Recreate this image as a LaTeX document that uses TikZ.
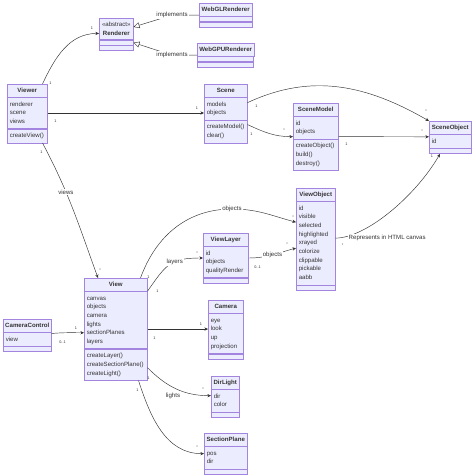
\documentclass[tikz,border=0pt]{standalone}
\usepackage{fontspec}
\setmainfont{Liberation Sans}
\usetikzlibrary{arrows.meta,calc}
\definecolor{clsfill}{HTML}{ECECFF}
\definecolor{clsline}{HTML}{9370DB}
\definecolor{edgec}{HTML}{333333}
\tikzset{clshead/.style={draw=clsline!85,fill=clsfill,line width=0.5pt,anchor=north west,align=center,inner xsep=2pt,inner ysep=2pt,font=\fontsize{6.1}{8.7}\selectfont\bfseries,text=edgec},clspart/.style={draw=clsline!85,fill=clsfill,line width=0.5pt,anchor=north west,align=left,inner xsep=2.5pt,font=\fontsize{6.1}{8.7}\selectfont,text=edgec},assoc/.style={-{Stealth[length=3.6pt,width=3.2pt]},draw=edgec,line width=0.45pt},inh/.style={-{Triangle[open,length=6pt,width=6pt,fill=white]},draw=edgec,line width=0.45pt},elabel/.style={fill=white,inner sep=1pt,font=\fontsize{6.1}{8.7}\selectfont,text=edgec},card/.style={inner sep=0pt,font=\fontsize{3.8}{4}\selectfont,text=edgec}}
% one compartment of a class box
\newcommand{\umlpart}[4]{%
  \def\umlbody{#4}%
  \ifx\umlbody\empty
    \node[clspart,minimum width=#3pt,minimum height=5pt,inner ysep=0pt] (#1) at (#2.south west) {};
  \else
    \pgfmathsetmacro\umlw{#3-5}%
    \node[clspart,text width=\umlw pt,inner ysep=2.5pt] (#1) at (#2.south west) {\strut#4\strut};
  \fi}
% name, left, top, width, title, attributes, methods
\newcommand{\umlclass}[7]{%
  \node[clshead,minimum width=#4pt] (#1) at (#2,-#3) {\strut#5\strut};
  \umlpart{#1-a}{#1}{#4}{#6}
  \umlpart{#1-m}{#1-a}{#4}{#7}}

\begin{document}
\begin{tikzpicture}[x=1pt,y=1pt]
\fill[white] (0,0) rectangle (474,-476);
\umlclass{renderer}{99}{18}{34}{{\mdseries «abstract»}\\Renderer}{}{}
\umlclass{webgl}{199}{3}{53}{WebGLRenderer}{}{}
\umlclass{webgpu}{197}{43}{56}{WebGPURenderer}{}{}
\umlclass{viewer}{7}{84}{40}{Viewer}{renderer\\scene\\views}{createView()}
\umlclass{scene}{204}{84}{43}{Scene}{models\\objects}{createModel()\\clear()}
\umlclass{scenemodel}{293}{103}{45}{SceneModel}{id\\objects}{createObject()\\build()\\destroy()}
\umlclass{sceneobject}{429}{121}{42}{SceneObject}{id}{}
\umlclass{viewobject}{296}{188}{39}{ViewObject}{id\\visible\\selected\\highlighted\\xrayed\\colorize\\clippable\\pickable\\aabb}{}
\umlclass{viewlayer}{203}{233}{45}{ViewLayer}{id\\objects\\qualityRender}{}
\umlclass{view}{84}{278}{63}{View}{canvas\\objects\\camera\\lights\\sectionPlanes\\layers}{createLayer()\\createSectionPlane()\\createLight()}
\umlclass{cameracontrol}{3}{319}{48}{CameraControl}{view}{}
\umlclass{camera}{208}{300}{35}{Camera}{eye\\look\\up\\projection}{}
\umlclass{dirlight}{211}{376}{28}{DirLight}{dir\\color}{}
\umlclass{sectionplane}{204}{433}{43}{SectionPlane}{pos\\dir}{}
\coordinate (objbend) at (232,-209);
\draw[assoc] ([xshift=-5pt]viewer.north east) to[out=65,in=180] node[card,at start,xshift=8pt,yshift=1pt]{1} node[card,at end,xshift=-7pt,yshift=5pt]{1} ([yshift=-4.5pt]renderer.west);
\draw[inh] ([yshift=1pt]webgl.south west) -- ++(-27,0) node[elabel]{implements} -- ([yshift=2pt]renderer.east);
\draw[inh] ([yshift=1pt]webgpu.south west) -- ++(-25,0) node[elabel]{implements} -- (renderer-a.east);
\draw[assoc] (viewer-a.east) -- node[card,at start,xshift=8pt,yshift=-8pt]{1} node[card,at end,xshift=-7pt,yshift=5pt]{1} (viewer-a.east -| scene.west);
\draw[assoc] ([xshift=-5pt]viewer-m.south east) to[out=-62,in=110] node[elabel,pos=0.36]{views} node[card,at start,xshift=-1pt,yshift=-9pt]{1} node[card,at end,xshift=2pt,yshift=8pt]{*} ([xshift=14pt]view.north west);
\draw[assoc] ([yshift=6pt]scene-a.east) to[out=25,in=150] node[card,at start,xshift=9pt,yshift=-4pt]{1} node[card,at end,xshift=-3pt,yshift=10pt]{*} (sceneobject.north west);
\draw[assoc] ([yshift=7pt]scene-m.east) to[out=-25,in=180] node[card,at start,xshift=4pt,yshift=-10pt]{1} node[card,at end,xshift=-9pt,yshift=6pt]{*} ([yshift=-9pt]scenemodel-a.west);
\draw[assoc] ([yshift=-9pt]scenemodel-a.east) -- node[card,at start,xshift=8pt,yshift=-8pt]{1} node[card,at end,xshift=-7pt,yshift=6pt]{*} ([yshift=4.5pt]sceneobject-a.west);
\draw[assoc] ([xshift=-7pt]view.north east) to[out=70,in=180] node[card,at start,xshift=8pt,yshift=1pt]{1} (objbend) node[elabel]{objects} to[out=0,in=165] node[card,at end,xshift=-3pt,yshift=5pt]{*} ([yshift=-21pt]viewobject-a.north west);
\draw[assoc] (view.south east) to[out=55,in=180,looseness=1.3] node[elabel,pos=0.6]{layers} node[card,at start,xshift=10pt]{1} node[card,at end,xshift=-6pt,yshift=5pt]{*} ([yshift=4pt]viewlayer-a.west);
\draw[assoc] ([yshift=4pt]viewlayer-a.east) to[out=0,in=195] node[elabel]{objects} node[card,at start,xshift=9pt,yshift=-9pt]{0..1} node[card,at end,xshift=-9pt,yshift=4pt]{*} ([yshift=-5pt]viewobject-a.west);
\draw[assoc] ([yshift=5pt]viewobject-a.east) .. controls +(30,0) and +(-25,-43) .. ([xshift=11pt]sceneobject-m.south west) node[elabel,at start,anchor=west,xshift=12pt]{Represents in HTML canvas} node[card,at start,xshift=7pt,yshift=-7pt]{*} node[card,at end,xshift=-8pt,yshift=-2pt]{1};
\draw[assoc] ([yshift=-1.3pt]cameracontrol-a.north east) to[out=5,in=180] node[card,at start,xshift=11pt,yshift=-9pt]{0..1} node[card,at end,xshift=-8pt,yshift=5pt]{1} ([yshift=-12.7pt]view-a.west);
\draw[assoc] ([yshift=-9pt]view-a.east) -- node[card,at start,xshift=7pt,yshift=-9pt]{1} node[card,at end,xshift=-7pt,yshift=5pt]{1} ([yshift=4.3pt]camera-a.west);
\draw[assoc] ([yshift=-3pt]view-m.east) to[out=-45,in=180] node[elabel,fill=none,at end,xshift=-38pt]{lights} node[card,at start,xshift=1pt,yshift=-10pt]{1} node[card,at end,xshift=-8pt,yshift=6pt]{*} ([yshift=5pt]dirlight-a.west);
\draw[assoc] ([xshift=-9pt]view-m.south east) to[out=-72,in=180] node[card,at start,xshift=-1pt,yshift=-10pt]{1} node[card,at end,xshift=-7pt,yshift=6pt]{*} ([yshift=4pt]sectionplane-a.west);
\end{tikzpicture}
\end{document}
